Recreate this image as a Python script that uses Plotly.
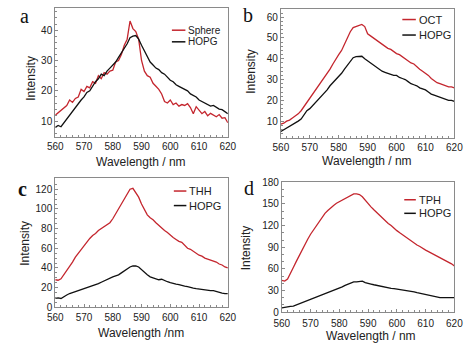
import plotly.graph_objects as go

wavelength = list(range(560, 621))

sphere_a = [12.0, 12.8, 13.5, 14.5, 15.2, 17.0, 16.2, 17.5, 18.0, 20.5, 19.8, 21.5, 21.0, 23.0, 22.5, 25.0,
            24.0, 26.0, 25.5, 26.5, 26.8, 29.5, 30.0, 32.0, 35.0, 37.0, 43.0, 40.5, 39.5, 37.0, 30.0, 26.5,
            25.0, 24.5, 22.5, 21.5, 20.5, 19.0, 16.5, 16.0, 17.0, 15.5, 16.0, 15.0, 15.5, 15.2, 15.8, 14.5,
            12.5, 14.8, 13.5, 12.5, 13.2, 11.8, 12.6, 12.0, 11.5, 12.2, 11.0, 11.2, 9.5]
hopg_a = [8.0, 8.6, 8.2, 9.5, 10.5, 12.0, 13.5, 14.8, 16.0, 17.0, 18.0, 19.5, 20.0, 21.5, 23.0, 24.0,
          25.5, 25.0, 26.5, 27.5, 28.5, 29.5, 31.0, 32.5, 34.0, 35.5, 37.5, 38.0, 38.2, 37.0, 35.0, 33.0,
          31.5, 29.5, 28.5, 27.5, 27.0, 26.0, 25.5, 24.5, 23.5, 23.0, 22.0, 21.5, 21.0, 20.5, 20.0, 19.0,
          18.5, 18.0, 17.0, 16.5, 16.0, 15.5, 15.0, 15.2, 14.5, 14.0, 13.8, 13.0, 12.5]

oct_b = [8.5, 9.0, 10.0, 10.5, 11.5, 12.5, 13.5, 15.0, 17.0, 18.5, 20.5, 22.5, 25.0, 27.0, 29.0, 31.0,
         32.5, 35.0, 37.5, 40.0, 42.0, 44.0, 47.0, 50.0, 53.0, 55.0, 55.5, 56.0, 56.5, 55.5, 52.0, 51.0,
         50.0, 49.0, 48.0, 47.0, 46.0, 45.0, 44.5, 43.5, 42.5, 42.0, 41.0, 40.0, 39.0, 38.0, 37.5, 36.0,
         35.0, 34.0, 33.0, 32.0, 30.5, 29.5, 28.5, 28.0, 27.5, 27.0, 26.5, 26.5, 26.0]
hopg_b = [5.0, 5.8, 6.5, 7.2, 8.0, 9.0, 10.0, 11.0, 13.0, 15.0, 16.0, 17.5, 19.0, 20.5, 22.0, 23.0,
          25.0, 27.0, 28.5, 30.0, 31.0, 33.0, 35.0, 37.0, 39.0, 40.5, 41.0, 41.0, 41.2, 40.0, 39.0, 38.0,
          37.0, 36.0, 35.0, 34.0, 33.5, 33.0, 32.5, 32.0, 32.0, 31.0, 30.5, 30.0, 29.0, 28.0, 27.5, 27.0,
          26.0, 25.5, 25.0, 24.0, 23.0, 22.5, 22.0, 21.5, 21.0, 20.5, 20.0, 20.0, 19.5]

thh_c = [28, 27.5, 29, 33, 37, 41, 46, 51, 55, 59, 62, 66, 70, 73, 75, 78,
         80, 82, 84, 86, 90, 95, 100, 105, 111, 116, 120, 121, 117, 112, 105, 99,
         94, 91, 89, 86, 83, 81, 78, 76, 73, 71, 69, 67, 66, 63, 60, 59,
         57, 55, 53, 52, 50, 49, 48, 47, 46, 44, 43, 41, 40]
hopg_c = [9, 9.5, 9, 11, 12.5, 14, 15, 16, 17, 17.5, 18.5, 19.5, 21, 22, 23, 24,
          25.5, 27, 28, 29.5, 31, 32, 33, 35, 37, 39, 41, 42, 42, 41, 38, 35,
          33, 31, 30, 29.5, 28, 28.5, 27, 26, 25, 24, 23.5, 23, 22, 21.5, 21, 20,
          19.5, 19, 18.5, 18, 17.5, 17, 17, 17, 16, 15, 14.5, 14, 14]

tph_d = [44, 43, 46, 55, 62, 70, 78, 86, 95, 101, 108, 114, 120, 126, 131, 137,
         141, 145, 148, 151, 153, 156, 158, 160, 162, 164, 164, 163, 160, 155, 150, 146,
         142, 138, 134, 130, 127, 123, 120, 116, 113, 110, 107, 104, 101, 98, 96, 93,
         91, 88, 86, 84, 82, 80, 78, 76, 74, 72, 70, 67, 64]
hopg_d = [6, 7, 7.5, 8, 8.5, 10, 11.5, 13, 15, 16.5, 18, 19.5, 21, 22, 23.5, 25,
          26.5, 28, 29.5, 31, 33, 35, 37, 39, 41, 42, 42, 42, 43, 41, 39.5, 39,
          38, 37, 36, 35, 34, 33.5, 33, 32.5, 32, 31.5, 31, 30, 29, 28.5, 28, 27,
          26, 25, 24, 23, 22, 21, 20.5, 20, 20, 20, 20, 20, 20]

panels = [
    # (sample name, sample data, hopg data, panel letter, y range, y dtick, x title)
    ("Sphere", sphere_a, hopg_a, "a", [4.9, 47.3], 10, "Wavelength / nm"),
    ("OCT", oct_b, hopg_b, "b", [2.0, 64.0], 10, "Wavelength / nm"),
    ("THH", thh_c, hopg_c, "c", [0, 131], 20, "Wavelength /nm"),
    ("TPH", tph_d, hopg_d, "d", [0, 180], 30, "Wavelength / nm"),
]

W, H = 474, 354
# plot-area pixel boxes (left, right, top, bottom)
boxes = [(49, 228, 3, 136), (283, 463, 4, 137), (49, 228, 179, 312), (284, 463, 183, 317)]
# legend: line x0, line x1, row1 y, row2 y, font size
legend_geo = [(170, 184, 26, 38, 10), (409, 423, 15, 31, 11), (172, 185, 192, 207, 11), (411, 423, 201, 215, 11)]
letter_pos = [(17, 11), (249, 10), (15, 190), (250, 189)]
ytitle_pos = [(23, 76), (252, 68), (18, 246), (247, 251)]
xtitle_pos = [(138, 162), (372, 161), (138, 339), (376, 342)]
xlabel_standoff = [0, 0, 1, 2]

RED = "#c4262e"
BLACK = "#111111"
TXT = "#222222"
FRAME = "#8a8a8a"

fig = go.Figure()
for i, (name, ys, hy, letter, yr, dt, xt) in enumerate(panels):
    k = "" if i == 0 else str(i + 1)
    fig.add_trace(go.Scatter(x=wavelength, y=ys, mode="lines", name=name,
                             line=dict(color=RED, width=1.3), xaxis="x" + k, yaxis="y" + k))
    fig.add_trace(go.Scatter(x=wavelength, y=hy, mode="lines", name="HOPG",
                             line=dict(color=BLACK, width=1.3), xaxis="x" + k, yaxis="y" + k))
    l, r, t, b = boxes[i]
    axcommon = dict(showline=True, linecolor=FRAME, linewidth=1, mirror=True,
                    ticks="inside", ticklen=3, tickcolor=FRAME, showgrid=False, zeroline=False,
                    tickfont=dict(family="Arial", size=10, color=TXT),
                    minor=dict(ticks="inside", ticklen=2, tickcolor=FRAME))
    fig.update_layout(**{
        "xaxis" + k: dict(domain=[l / W, r / W], range=[560, 620], dtick=10, anchor="y" + k,
                          ticklabelstandoff=xlabel_standoff[i], **axcommon),
        "yaxis" + k: dict(domain=[1 - b / H, 1 - t / H], range=yr, dtick=dt, anchor="x" + k, **axcommon),
    })
    # axis titles
    fig.add_annotation(x=xtitle_pos[i][0] / W, y=1 - xtitle_pos[i][1] / H, xref="paper", yref="paper",
                       text=xt, showarrow=False, xanchor="center", yanchor="middle",
                       font=dict(family="Arial", size=12, color=TXT))
    fig.add_annotation(x=ytitle_pos[i][0] / W, y=1 - ytitle_pos[i][1] / H, xref="paper", yref="paper",
                       text="Intensity", showarrow=False, xanchor="center", yanchor="middle",
                       textangle=-90, font=dict(family="Arial", size=12, color=TXT))
    # panel letter
    fig.add_annotation(x=letter_pos[i][0] / W, y=1 - letter_pos[i][1] / H, xref="paper", yref="paper",
                       text=("<b>%s</b>" % letter) if letter == "c" else letter, showarrow=False,
                       font=dict(family="Liberation Serif", size=20, color="#111"),
                       xanchor="center", yanchor="middle")
    # legend entries
    x0, x1, r1, r2, fs = legend_geo[i]
    for yy, col, lab in ((r1, RED, name), (r2, BLACK, "HOPG")):
        fig.add_shape(type="line", xref="paper", yref="paper", x0=x0 / W, x1=x1 / W,
                      y0=1 - yy / H, y1=1 - yy / H, line=dict(color=col, width=1.5))
        fig.add_annotation(x=(x1 + 1) / W, y=1 - yy / H, xref="paper", yref="paper", text=lab,
                           showarrow=False, xanchor="left", yanchor="middle",
                           font=dict(family="Arial", size=fs, color=TXT))

fig.update_layout(width=W, height=H, margin=dict(l=0, r=0, t=0, b=0),
                  paper_bgcolor="white", plot_bgcolor="white", showlegend=False)
fig.write_html("out.html")
